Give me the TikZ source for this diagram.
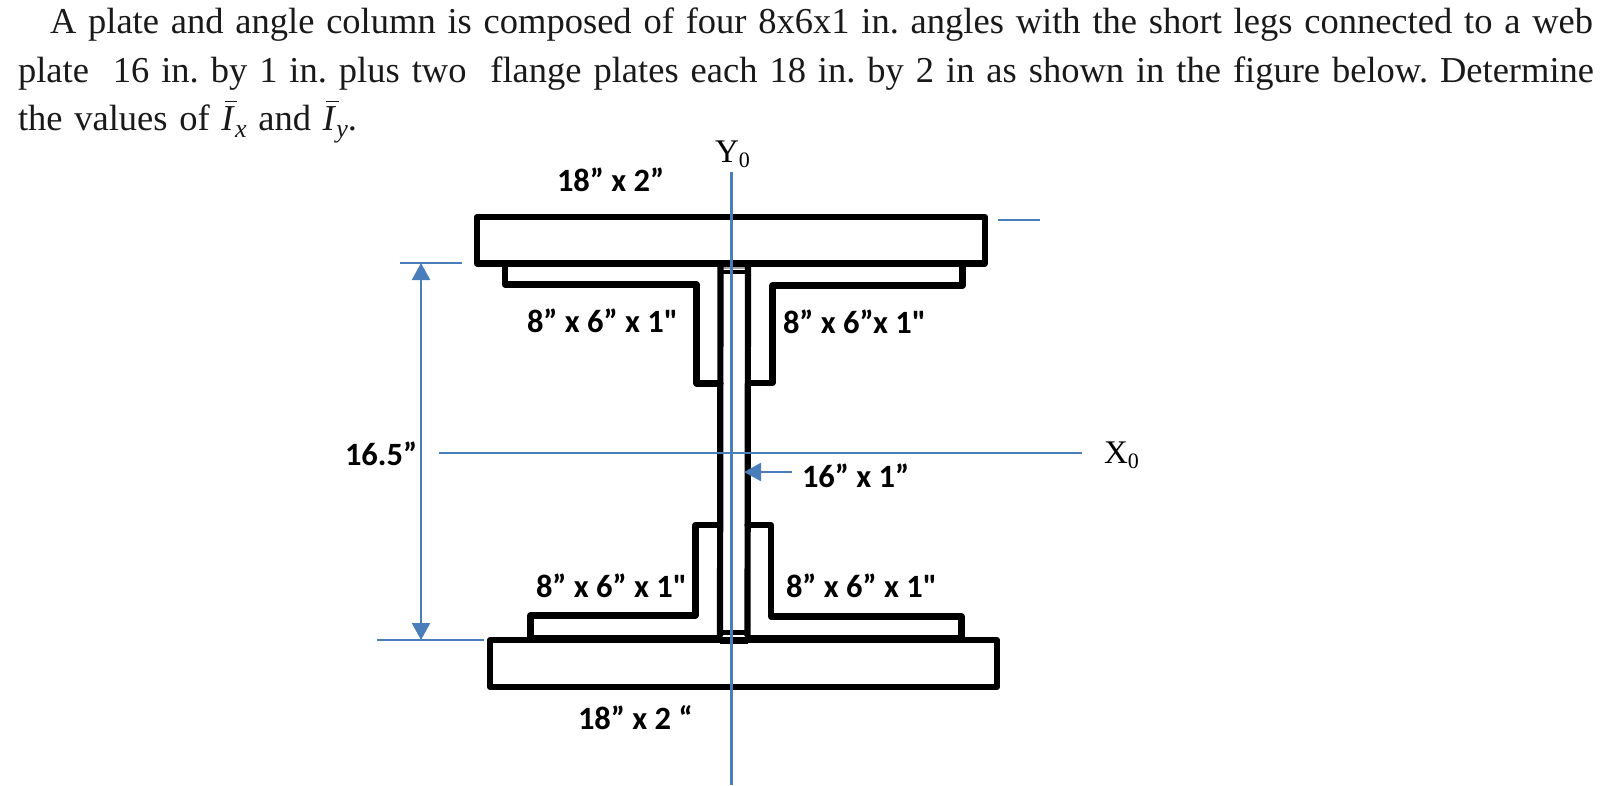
\documentclass[tikz,border=0pt]{standalone}
\usepackage{fontspec}
\setmainfont{Liberation Serif}
\newfontfamily\lblfont{Carlito}[BoldFont=Carlito Bold]
\usetikzlibrary{arrows.meta}
\definecolor{axisblue}{HTML}{4A7EBB}
\newcommand{\barI}{\leavevmode\rlap{\kern3.5pt\rule[28pt]{12.5pt}{1.4pt}}\textit{I}}
\newcommand{\subsc}[1]{\raisebox{-7pt}{\fontsize{26}{30}\selectfont\textit{#1}}}
\tikzset{
  body/.style={anchor=base west,inner sep=0pt,outer sep=0pt,font=\fontsize{36.5}{40}\selectfont,text=black!90},
  lbl/.style={anchor=base west,inner sep=0pt,outer sep=0pt,font=\lblfont\bfseries\fontsize{32.5}{38}\selectfont},
  axislbl/.style={anchor=base west,inner sep=0pt,outer sep=0pt,font=\fontsize{33}{38}\selectfont},
  plate/.style={draw=black,line width=6.2pt,line join=round,line cap=round},
  blueline/.style={draw=axisblue,line width=2.4pt},
  bluearrow/.style={blueline,-{Triangle[length=17pt,width=18pt]}},
  bluedouble/.style={blueline,{Triangle[length=17pt,width=18pt]}-{Triangle[length=17pt,width=18pt]}}
}
\begin{document}
\begin{tikzpicture}[x=1pt,y=-1pt]
\useasboundingbox (0,0) rectangle (1617,785);
% text
\node[body] (l1) at (50,33) {\frenchspacing\makebox[1543pt][s]{A plate and angle column is composed of four 8x6x1 in. angles with the short legs connected to a web}};
\node[body] (l2) at (18,82) {\frenchspacing\makebox[1576pt][s]{plate\ \ 16 in. by 1 in. plus two\ \ flange plates each 18 in. by 2 in as shown in the figure below. Determine}};
\node[body] (l3) at (18,130) {\frenchspacing\makebox[339pt][s]{the values of \barI\subsc{x} and \barI\subsc{y}.}};
% plates
\draw[plate] (477,217) rectangle (985,263.5);
\draw[plate] (490,640) rectangle (997,687);
% web
\draw[draw=gray!70,line width=2pt] (723,268) -- (745,268);
\draw[plate,line width=4.5pt,line cap=butt] (720.5,272) -- (748,272);
\draw[plate,line cap=butt] (720.5,266) -- (720,636);
\draw[plate,line cap=butt] (748,266) -- (747.5,636);
\draw[plate,line width=5pt,line cap=butt] (720,632) -- (747.5,632);
\draw[plate,line width=5pt,line cap=butt] (720,641.5) -- (747.5,641.5);
% upper angles
\draw[plate] (505,265) -- (505,284.5) -- (696.5,284.5) -- (696.5,383.5) -- (720.5,383.5);
\draw[plate] (962.5,265) -- (962.5,285.5) -- (772.5,285.5) -- (772.5,383) -- (748,383);
% lower angles
\draw[plate] (720,525) -- (695.5,525) -- (695.5,615.5) -- (530.5,615.5) -- (530.5,638) -- (720,638);
\draw[plate] (747.5,525) -- (771,525) -- (771,616.5) -- (961.5,616.5) -- (961.5,638) -- (747.5,638);
% axes
\coordinate (ytop) at (731.5,172);
\coordinate (ybot) at (731.5,785);
\coordinate (xl) at (439,453);
\coordinate (xr) at (1082,453);
\coordinate (tr1) at (998,220);
\coordinate (tr2) at (1040,220);
\coordinate (dt1) at (400,263);
\coordinate (dt2) at (462,263);
\coordinate (db1) at (377,640);
\coordinate (db2) at (484,640);
\coordinate (da) at (421,263);
\coordinate (dc) at (421,640);
\coordinate (wa) at (792,472);
\coordinate (wb) at (744,472);
\draw[blueline] (ytop) -- (ybot);
\draw[blueline] (xl) -- (xr);
\draw[blueline] (tr1) -- (tr2);
\draw[blueline] (dt1) -- (dt2);
\draw[blueline] (db1) -- (db2);
\draw[bluedouble] (da) -- (dc);
\draw[bluearrow] (wa) -- (wb);
% labels
\node[axislbl] (y0) at (715,162) {Y\raisebox{-5pt}{\fontsize{22}{24}\selectfont 0}};
\node[axislbl] (x0) at (1104,463) {X\raisebox{-5pt}{\fontsize{22}{24}\selectfont 0}};
\node[lbl] (ftop) at (557,191) {18” x 2”};
\node[lbl] (fbot) at (578,729) {18” x 2 “};
\node[lbl] (dim) at (345,465) {16.5”};
\node[lbl] (web) at (802,487) {16” x 1”};
\node[lbl] (atl) at (527,332) {8” x 6” x 1"};
\node[lbl] (atr) at (783,333) {8” x 6”x 1"};
\node[lbl] (abl) at (536,597) {8” x 6” x 1"};
\node[lbl] (abr) at (786,597) {8” x 6” x 1"};
\end{tikzpicture}
\end{document}
